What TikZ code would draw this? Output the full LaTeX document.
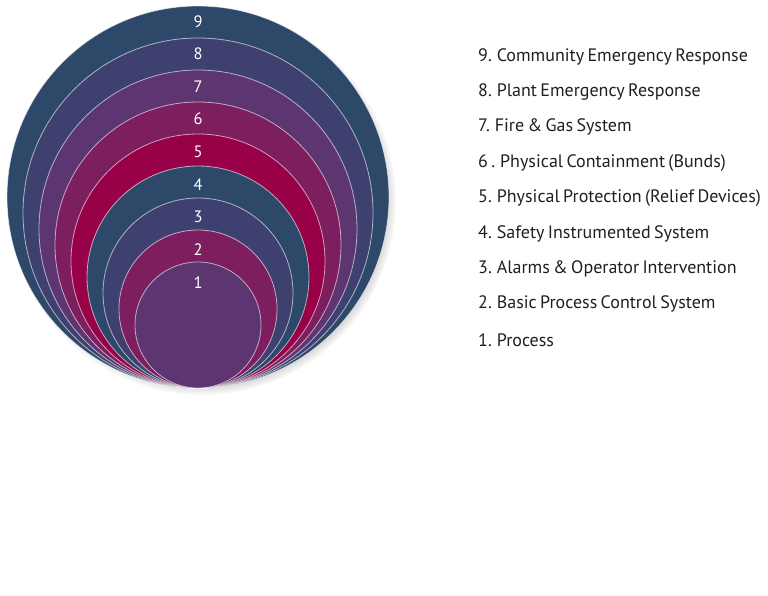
\documentclass[tikz,border=0pt]{standalone}
\usepackage{fontspec}
\setmainfont[WordSpace=0.7]{PT Sans}
\usetikzlibrary{shadows}
\definecolor{cblue}{HTML}{2D4868}
\definecolor{cslate}{HTML}{3E4070}
\definecolor{cpurple}{HTML}{5D3571}
\definecolor{cmag}{HTML}{7D1F5E}
\definecolor{ccrim}{HTML}{980047}
\definecolor{txt}{HTML}{231F20}
\tikzset{
  ring/.style={circle, inner sep=0pt, draw=white, draw opacity=0.6, line width=0.8pt},
  num/.style={text=white, font=\fontsize{16.5}{16}\selectfont, inner sep=0pt},
  item/.style={anchor=west, text=txt, font=\fontsize{18}{18}\selectfont, inner sep=0pt}
}
\begin{document}
\begin{tikzpicture}[x=1pt,y=-1pt]
\useasboundingbox (0,0) rectangle (768,595);
\fill[white] (0,0) rectangle (768,595);
% circles, all touching at the bottom (198,388)
\node[ring, fill=cblue, minimum size=382pt,
  circular drop shadow={shadow xshift=4pt, shadow yshift=-4pt, shadow scale=1.015, opacity=0.9}] (c9) at (198,197) {};
\node[ring, fill=cslate,  minimum size=350pt] (c8) at (198,213) {};
\node[ring, fill=cpurple, minimum size=318pt] (c7) at (198,229) {};
\node[ring, fill=cmag,    minimum size=286pt] (c6) at (198,245) {};
\node[ring, fill=ccrim,   minimum size=254pt] (c5) at (198,261) {};
\node[ring, fill=cblue,   minimum size=222pt] (c4) at (198,277) {};
\node[ring, fill=cslate,  minimum size=190pt] (c3) at (198,293) {};
\node[ring, fill=cmag,    minimum size=158pt] (c2) at (198,309) {};
\node[ring, fill=cpurple, minimum size=126pt] (c1) at (198,325) {};
% numbers
\node[num] (n9) at (198,21.5) {9};
\node[num] (n8) at (198,54) {8};
\node[num] (n7) at (198,86.5) {7};
\node[num] (n6) at (198,119) {6};
\node[num] (n5) at (198,152) {5};
\node[num] (n4) at (198,184.5) {4};
\node[num] (n3) at (198,217) {3};
\node[num] (n2) at (198,249.5) {2};
\node[num] (n1) at (198,282.5) {1};
% legend
\node[item] (l9) at (478,57)  {9. Community Emergency Response};
\node[item] (l8) at (478,92)  {8. Plant Emergency Response};
\node[item] (l7) at (478,127) {7. Fire \& Gas System};
\node[item] (l6) at (478,163) {6 . Physical Containment (Bunds)};
\node[item] (l5) at (478,198) {5. Physical Protection (Relief Devices)};
\node[item] (l4) at (478,234) {4. Safety Instrumented System};
\node[item] (l3) at (478,269) {3. Alarms \& Operator Intervention};
\node[item] (l2) at (478,304) {2. Basic Process Control System};
\node[item] (l1) at (478,340) {1. Process};
\end{tikzpicture}
\end{document}
